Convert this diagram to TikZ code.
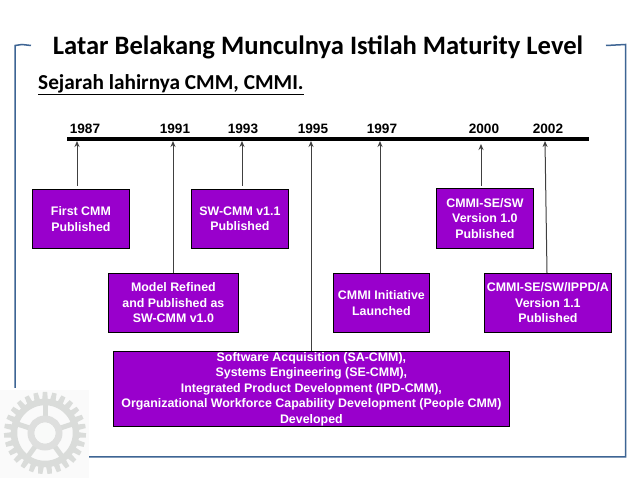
\documentclass[tikz,border=0pt]{standalone}
\usepackage{fontspec}
\setmainfont{Carlito}
\newfontfamily\arialf{Liberation Sans}
\definecolor{boxp}{HTML}{9900CC}
\definecolor{framec}{HTML}{3E6594}
\definecolor{gearc}{HTML}{DADCDA}
\usetikzlibrary{arrows.meta}
\tikzset{
 x=1pt,y=-1pt,
 evbox/.style={draw=black,line width=0.8pt,fill=boxp,text=white,font=\arialf\bfseries\fontsize{12.4}{15.5}\selectfont,align=center,inner sep=0pt,anchor=north west,execute at begin node={\rule{0pt}{11pt}}},
 yearl/.style={font=\arialf\bfseries\fontsize{13.6}{15}\selectfont,text=black,inner sep=0pt},
 arr/.style={draw=black!75,line width=1pt,-{Stealth[length=6pt,width=5pt]}},
 framel/.style={draw=framec,line width=1.5pt}
}
\begin{document}
\begin{tikzpicture}
\useasboundingbox (0,0) rectangle (638,478);
\fill[white] (0,0) rectangle (638,478);
% frame
\draw[framel] (31,45.5) -- (22,44.5) -- (15,45.5) -- (15,388);
\draw[framel] (606,45.5) -- (625.5,44.5) -- (625.5,457) -- (89,457);
% title
\node[font=\bfseries\fontsize{26.6}{30}\selectfont,anchor=center,inner sep=0pt] (title) at (318,47) {Latar Belakang Munculnya Istilah Maturity Level};
\node[font=\bfseries\fontsize{21.3}{24}\selectfont,anchor=west,inner sep=0pt] (sub) at (38,85) {\underline{Sejarah lahirnya CMM, CMMI.}};
% timeline
\coordinate (tl) at (67,139);
\coordinate (tr) at (589,139);
\draw[black,line width=3.4pt] (tl) -- (tr);
\node[yearl] (y87) at (85,129) {1987};
\node[yearl] (y91) at (175,129) {1991};
\node[yearl] (y93) at (243,129) {1993};
\node[yearl] (y95) at (313,129) {1995};
\node[yearl] (y97) at (382,129) {1997};
\node[yearl] (y00) at (484,129) {2000};
\node[yearl] (y02) at (548,129) {2002};
% boxes
\node[evbox,minimum width=97pt,minimum height=59pt] (b1) at (32,189) {First CMM\\Published};
\node[evbox,minimum width=97pt,minimum height=59pt] (b2) at (191,189) {SW-CMM v1.1\\Published};
\node[evbox,minimum width=97pt,minimum height=60pt] (b3) at (436,188) {CMMI-SE/SW\\Version 1.0\\Published};
\node[evbox,minimum width=130pt,minimum height=59pt] (b4) at (108,273) {Model Refined\\and Published as\\SW-CMM v1.0};
\node[evbox,minimum width=96pt,minimum height=59pt] (b5) at (333,273) {CMMI Initiative\\Launched};
\node[evbox,minimum width=127pt,minimum height=59pt] (b6) at (484,273) {CMMI-SE/SW/IPPD/A\\Version 1.1\\Published};
\node[evbox,minimum width=396pt,minimum height=75pt] (b7) at (113,351) {Software Acquisition (SA-CMM),\\Systems Engineering (SE-CMM),\\Integrated Product Development (IPD-CMM),\\Organizational Workforce Capability Development (People CMM)\\Developed};
% arrows
\coordinate (a1) at (77,141);
\coordinate (a2) at (173,141);
\coordinate (a3) at (242,141);
\coordinate (a4) at (311,141);
\coordinate (a5) at (380,141);
\coordinate (a6) at (481,144);
\coordinate (a7) at (545,141);
\draw[arr] (77,186) -- (a1);
\draw[arr] (173,273) -- (a2);
\draw[arr] (242,186) -- (a3);
\draw[arr] (311,351) -- (a4);
\draw[arr] (380,273) -- (a5);
\draw[arr] (481,186) -- (a6);
\draw[arr] (547,273) -- (a7);
% gear
\fill[black!2] (0,390) rectangle (89,478);
\begin{scope}[shift={(45,433)}]
 \foreach \a in {0,13.33,...,350}{
  \fill[gearc,rotate=\a] (-3,-31) -- (-2.2,-41) -- (2.2,-41) -- (3,-31) -- cycle;
 }
 \draw[gearc,line width=6.5pt] (0,0) circle (31);
 \foreach \a in {0,72,144,216,288}{
  \draw[gearc,line width=5pt,rotate=\a] (0,-12) -- (0,-29);
 }
 \draw[gearc!90,line width=7pt] (0,0) circle (14);
 \fill[white!85!gearc] (0,0) circle (10.5);
\end{scope}
\end{tikzpicture}
\end{document}
